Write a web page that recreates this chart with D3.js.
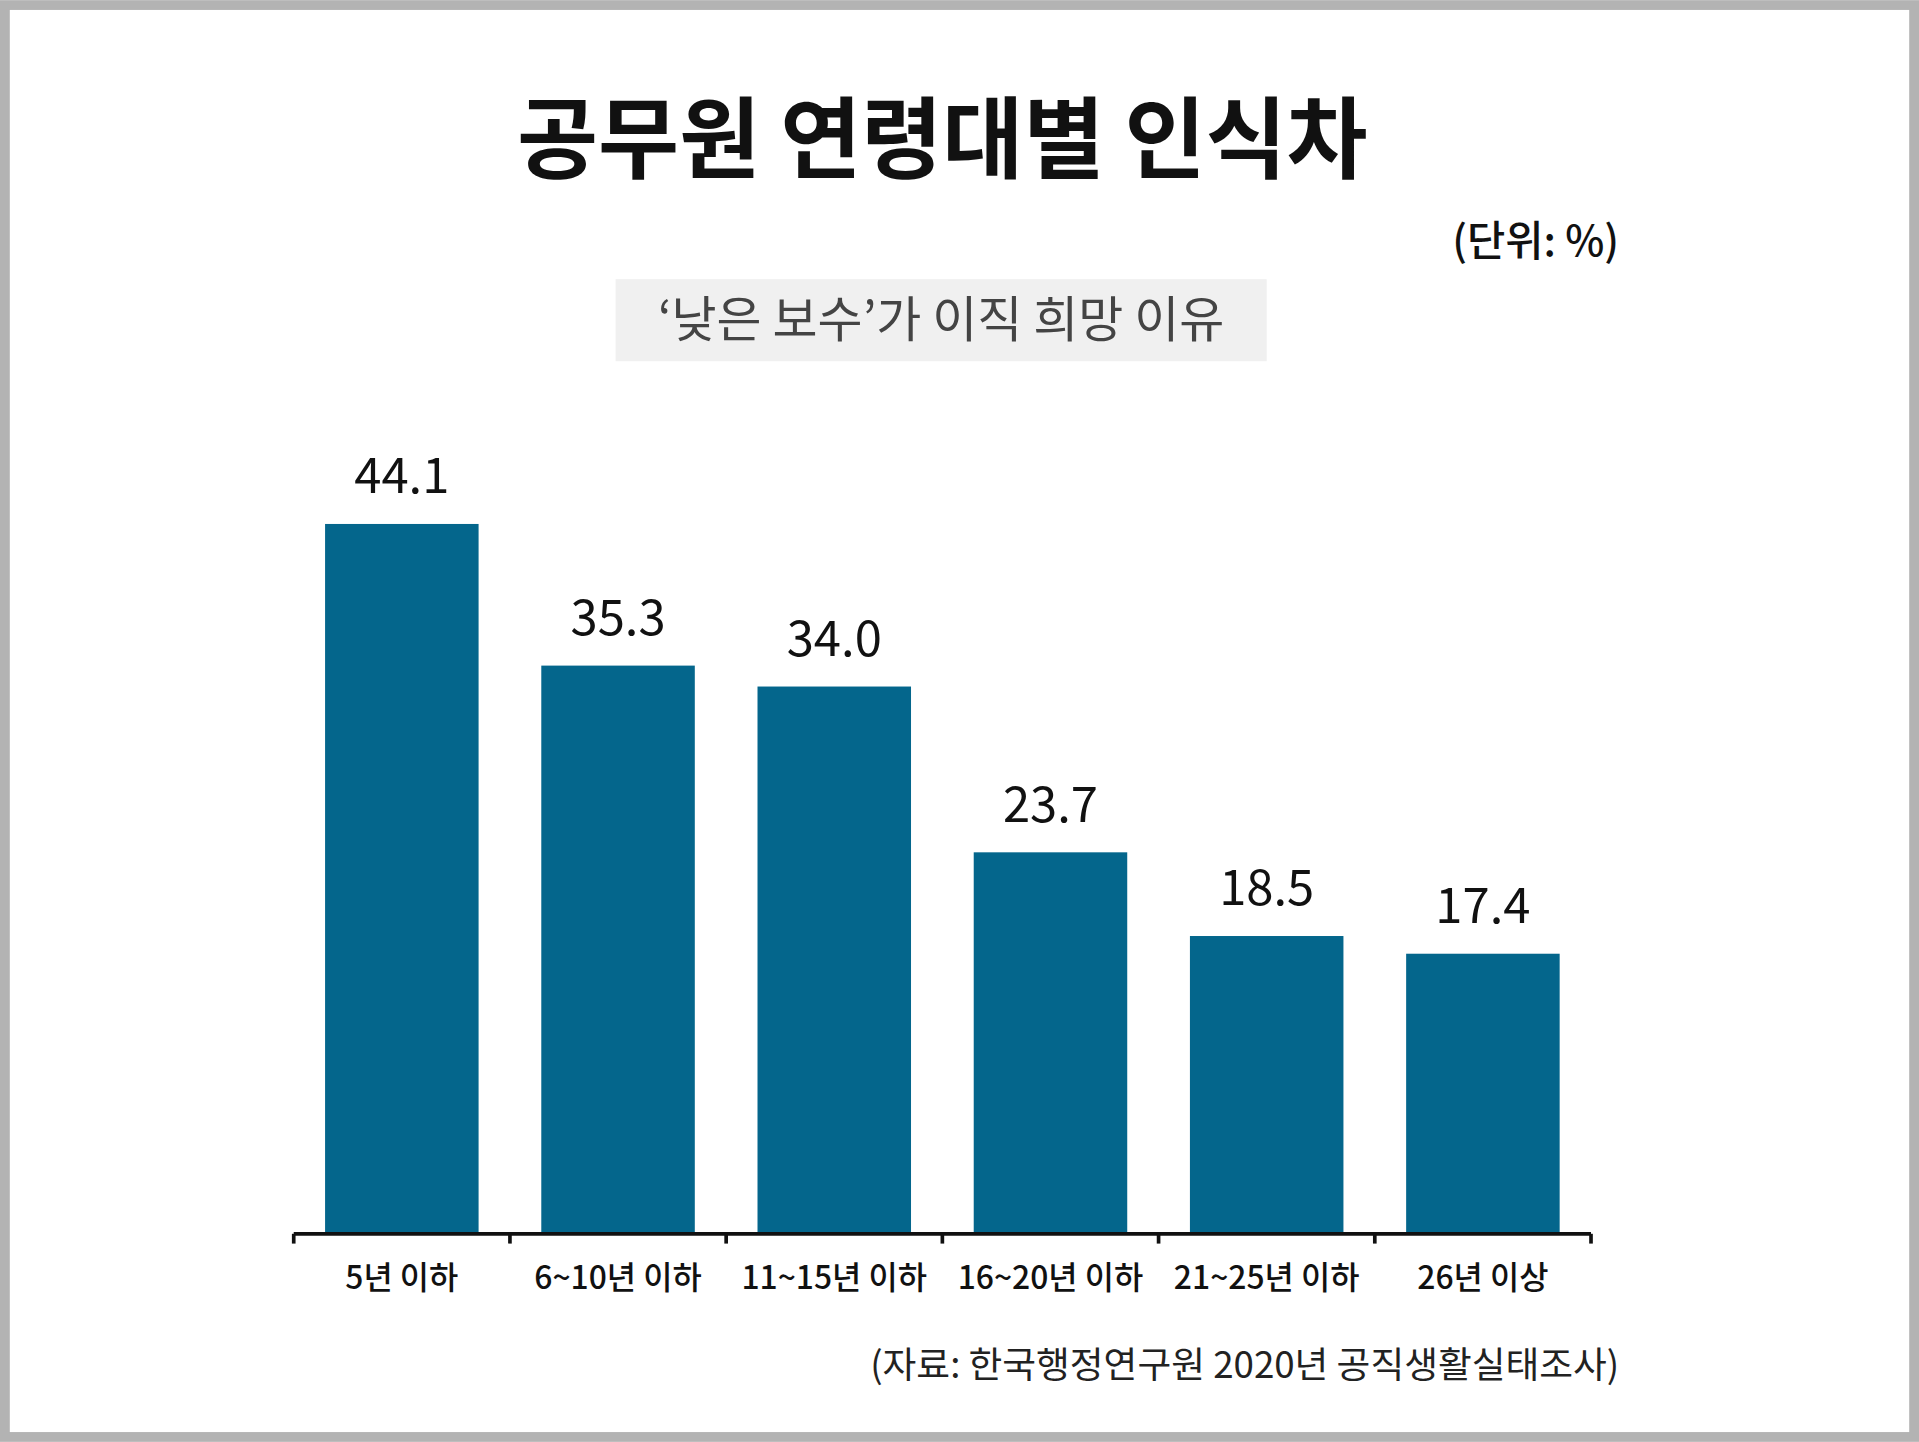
<!DOCTYPE html>
<html><head><meta charset="utf-8">
<script src="https://cdn.jsdelivr.net/npm/d3@7"></script>
<style>html,body{margin:0;padding:0;background:#fff}svg{display:block}</style>
</head><body>
<div id="chart"></div>
<script>
const categories = ['5년 이하', '6~10년 이하', '11~15년 이하', '16~20년 이하', '21~25년 이하', '26년 이상'];
const values = [44.1, 35.3, 34.0, 23.7, 18.5, 17.4];
const valueLabels = ['44.1', '35.3', '34.0', '23.7', '18.5', '17.4'];

const FONT = "'Noto Sans CJK KR', 'Noto Sans', sans-serif";
const W = 1568, H = 1178;
const svg = d3.select('#chart').append('svg')
  .attr('width', 1919).attr('height', 1442)
  .attr('viewBox', `0 0 ${W} ${H}`)
  .style('font-family', FONT);

// frame
svg.append('rect').attr('x', 4).attr('y', 4).attr('width', W - 8).attr('height', H - 8)
  .attr('fill', '#fff').attr('stroke', '#b3b3b3').attr('stroke-width', 8);

svg.append('text').attr('x', 770).attr('y', 140).attr('text-anchor', 'middle')
  .attr('font-size', 72).attr('font-weight', 700).attr('fill', '#111').text('공무원 연령대별 인식차');

svg.append('text').attr('x', 1323).attr('y', 209).attr('text-anchor', 'end')
  .attr('font-size', 34).attr('font-weight', 500).attr('fill', '#111').text('(단위: %)');

svg.append('rect').attr('x', 503).attr('y', 228).attr('width', 532).attr('height', 67).attr('fill', '#f0f0f0');
svg.append('text').attr('x', 769).attr('y', 275).attr('text-anchor', 'middle')
  .attr('font-size', 40).attr('font-weight', 400).attr('fill', '#444').text('‘낮은 보수’가 이직 희망 이유');

const x = d3.scaleBand().domain(categories).range([240, 1300]).paddingInner(0.29).paddingOuter(0.145);
const y = d3.scaleLinear().domain([0, 44.1]).range([1008, 428]);

svg.selectAll('rect.bar').data(values).enter().append('rect').attr('class', 'bar')
  .attr('x', (d, i) => x(categories[i])).attr('width', x.bandwidth())
  .attr('y', d => y(d)).attr('height', d => y(0) - y(d)).attr('fill', '#04668c');

svg.selectAll('text.val').data(values).enter().append('text').attr('class', 'val')
  .attr('x', (d, i) => x(categories[i]) + x.bandwidth() / 2).attr('y', d => y(d) - 25)
  .attr('text-anchor', 'middle').attr('font-size', 40).attr('fill', '#111')
  .text((d, i) => valueLabels[i]);

// axis
const step = x.step();
svg.append('line').attr('x1', 240).attr('x2', 1300).attr('y1', y(0)).attr('y2', y(0))
  .attr('stroke', '#111').attr('stroke-width', 3);
svg.selectAll('line.tick').data(d3.range(categories.length + 1)).enter().append('line').attr('class', 'tick')
  .attr('x1', i => 240 + i * step).attr('x2', i => 240 + i * step)
  .attr('y1', y(0)).attr('y2', y(0) + 8).attr('stroke', '#111').attr('stroke-width', 3);

svg.selectAll('text.cat').data(categories).enter().append('text').attr('class', 'cat')
  .attr('x', d => x(d) + x.bandwidth() / 2).attr('y', 1053).attr('text-anchor', 'middle')
  .attr('font-size', 26).attr('font-weight', 500).attr('fill', '#111').text(d => d);

svg.append('text').attr('x', 1323).attr('y', 1126).attr('text-anchor', 'end')
  .attr('font-size', 30).attr('font-weight', 400).attr('fill', '#222').text('(자료: 한국행정연구원 2020년 공직생활실태조사)');
</script>
</body></html>
